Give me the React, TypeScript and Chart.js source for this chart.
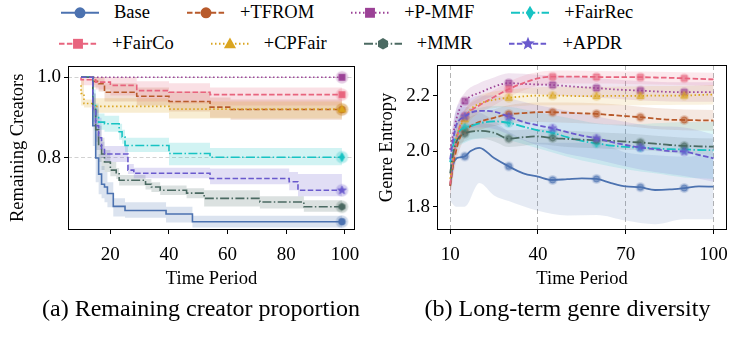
import React, { useEffect, useRef } from "react";
import { Chart, registerables } from "chart.js";

Chart.register(...registerables);

const FONT_FAMILY = '"Liberation Serif", "Times New Roman", Times, serif';

// ---------- series meta ----------
const SERIES_NAMES = ["Base", "+TFROM", "+P-MMF", "+FairRec", "+FairCo", "+CPFair", "+MMR", "+APDR"];
const SERIES_COLORS = ["#4C72B0", "#B85A2B", "#9B4196", "#17C3C3", "#E8647E", "#DAA520", "#4B6A62", "#6A5ACD"];
const SERIES_DASH = ["solid", "dashed", "dotted", "dashdot", "dashed", "dotted", "dashdot", "dashed"];
const SERIES_MARKERS = ["circle", "circle", "square", "diamond", "square", "triangle", "hexagon", "star"];
const LEGEND_ROWS = [[0, 1, 2, 3], [4, 5, 6, 7]];

// ---------- (a) Remaining creators: step series (x = change points) ----------
const remBaseX = [10, 14, 15, 16, 17, 18, 19, 21, 25, 39, 48, 88, 99];
const remBaseMean = [1.0, 1.0, 0.88, 0.8, 0.76, 0.735, 0.728, 0.712, 0.68, 0.67, 0.661, 0.642, 0.642];
const remBaseLo = [1.0, 1.0, 0.83, 0.74, 0.71, 0.7, 0.69, 0.678, 0.655, 0.652, 0.64, 0.628, 0.628];
const remBaseHi = [1.0, 1.0, 0.93, 0.86, 0.81, 0.78, 0.765, 0.74, 0.7, 0.69, 0.679, 0.657, 0.657];

const remTfromX = [10, 14, 16, 18, 29, 40, 54, 61, 84, 99];
const remTfromMean = [1.0, 1.0, 0.99, 0.984, 0.963, 0.953, 0.94, 0.926, 0.92, 0.92];
const remTfromLo = [1.0, 1.0, 0.975, 0.965, 0.94, 0.93, 0.915, 0.9, 0.895, 0.895];
const remTfromHi = [1.0, 1.0, 1.0, 1.0, 0.985, 0.975, 0.965, 0.95, 0.945, 0.945];

const remPmmfX = [10, 99];
const remPmmfMean = [1.0, 1.0];
const remPmmfLo = [1.0, 1.0];
const remPmmfHi = [1.0, 1.0];

const remFairRecX = [10, 14, 15, 16, 18, 23, 24, 25, 40, 54, 84, 99];
const remFairRecMean = [1.0, 1.0, 0.93, 0.9, 0.889, 0.885, 0.865, 0.852, 0.831, 0.811, 0.802, 0.802];
const remFairRecLo = [1.0, 1.0, 0.89, 0.87, 0.87, 0.865, 0.845, 0.835, 0.815, 0.782, 0.782, 0.782];
const remFairRecHi = [1.0, 1.0, 0.97, 0.935, 0.91, 0.905, 0.885, 0.87, 0.85, 0.838, 0.825, 0.825];

const remFairCoX = [10, 15, 20, 29, 40, 54, 61, 99];
const remFairCoMean = [1.0, 0.994, 0.988, 0.98, 0.967, 0.963, 0.957, 0.957];
const remFairCoLo = [1.0, 0.98, 0.97, 0.955, 0.94, 0.935, 0.93, 0.93];
const remFairCoHi = [1.0, 1.0, 1.0, 1.0, 0.99, 0.985, 0.975, 0.975];

const remCpFairX = [10, 11, 14, 40, 85, 99];
const remCpFairMean = [0.98, 0.96, 0.935, 0.928, 0.921, 0.921];
const remCpFairLo = [0.93, 0.93, 0.925, 0.912, 0.898, 0.898];
const remCpFairHi = [1.0, 1.0, 0.945, 0.948, 0.94, 0.94];

const remMmrX = [10, 14, 15, 16, 17, 18, 20, 22, 23, 32, 34, 37, 46, 52, 71, 86, 89, 99];
const remMmrMean = [1.0, 1.0, 0.92, 0.87, 0.83, 0.81, 0.79, 0.77, 0.761, 0.745, 0.735, 0.728, 0.72, 0.713, 0.7, 0.691, 0.679, 0.679];
const remMmrLo = [1.0, 1.0, 0.88, 0.82, 0.79, 0.77, 0.765, 0.755, 0.748, 0.732, 0.722, 0.716, 0.708, 0.7, 0.68, 0.675, 0.667, 0.667];
const remMmrHi = [1.0, 1.0, 0.96, 0.92, 0.88, 0.85, 0.82, 0.79, 0.775, 0.758, 0.748, 0.74, 0.732, 0.725, 0.72, 0.705, 0.695, 0.695];

const remApdrX = [10, 14, 15, 16, 17, 18, 26, 28, 54, 81, 84, 87, 99];
const remApdrMean = [1.0, 1.0, 0.92, 0.88, 0.85, 0.821, 0.81, 0.77, 0.762, 0.749, 0.741, 0.72, 0.72];
const remApdrLo = [1.0, 1.0, 0.88, 0.84, 0.82, 0.8, 0.79, 0.76, 0.75, 0.735, 0.72, 0.705, 0.705];
const remApdrHi = [1.0, 1.0, 0.96, 0.93, 0.9, 0.84, 0.83, 0.785, 0.776, 0.774, 0.765, 0.76, 0.76];

const REM_X = [remBaseX, remTfromX, remPmmfX, remFairRecX, remFairCoX, remCpFairX, remMmrX, remApdrX];
const REM_MEAN = [remBaseMean, remTfromMean, remPmmfMean, remFairRecMean, remFairCoMean, remCpFairMean, remMmrMean, remApdrMean];
const REM_LO = [remBaseLo, remTfromLo, remPmmfLo, remFairRecLo, remFairCoLo, remCpFairLo, remMmrLo, remApdrLo];
const REM_HI = [remBaseHi, remTfromHi, remPmmfHi, remFairRecHi, remFairCoHi, remCpFairHi, remMmrHi, remApdrHi];

const REM_X_TICKS = [20, 40, 60, 80, 100];
const REM_Y_TICKS = [0.8, 1.0];

// ---------- (b) Genre entropy ----------
const entX = [10, 11, 12, 13, 15, 17, 20, 25, 30, 35, 40, 45, 50, 55, 60, 65, 70, 75, 80, 85, 90, 95, 100];
const entMarkerX = [15, 30, 45, 60, 75, 90];
const entBaseMean = [1.875, 1.95, 1.972, 1.977, 1.981, 2.0, 2.012, 1.975, 1.945, 1.92, 1.908, 1.896, 1.899, 1.902, 1.9, 1.885, 1.873, 1.87, 1.86, 1.862, 1.867, 1.873, 1.872];
const entTfromMean = [1.875, 1.95, 2.0, 2.04, 2.075, 2.09, 2.105, 2.12, 2.133, 2.137, 2.14, 2.14, 2.138, 2.136, 2.134, 2.13, 2.126, 2.122, 2.117, 2.113, 2.112, 2.111, 2.11];
const entPmmfMean = [2.005, 2.06, 2.11, 2.145, 2.18, 2.197, 2.21, 2.232, 2.245, 2.242, 2.24, 2.238, 2.234, 2.23, 2.227, 2.223, 2.22, 2.218, 2.215, 2.213, 2.212, 2.212, 2.212];
const entFairRecMean = [1.96, 2.02, 2.05, 2.07, 2.085, 2.09, 2.1, 2.107, 2.102, 2.088, 2.075, 2.066, 2.05, 2.037, 2.028, 2.02, 2.015, 2.013, 2.01, 2.007, 2.006, 2.004, 2.003];
const entFairCoMean = [1.88, 1.97, 2.03, 2.08, 2.125, 2.145, 2.165, 2.195, 2.223, 2.245, 2.262, 2.268, 2.268, 2.268, 2.267, 2.266, 2.266, 2.266, 2.265, 2.264, 2.262, 2.26, 2.258];
const entCpFairMean = [1.9, 1.98, 2.04, 2.08, 2.115, 2.15, 2.17, 2.185, 2.192, 2.197, 2.2, 2.2, 2.199, 2.198, 2.198, 2.199, 2.199, 2.199, 2.2, 2.2, 2.2, 2.202, 2.204];
const entMmrMean = [1.92, 1.99, 2.03, 2.05, 2.063, 2.07, 2.073, 2.066, 2.045, 2.05, 2.053, 2.047, 2.044, 2.041, 2.039, 2.037, 2.034, 2.031, 2.027, 2.022, 2.019, 2.017, 2.016];
const entApdrMean = [1.97, 2.04, 2.09, 2.11, 2.125, 2.138, 2.145, 2.142, 2.124, 2.105, 2.093, 2.082, 2.068, 2.056, 2.046, 2.033, 2.022, 2.013, 2.007, 2.0, 1.998, 1.986, 1.974];

const entBandX = [10, 12, 15, 20, 25, 30, 40, 50, 60, 70, 80, 90, 100];
const entBaseLo = [1.82, 1.8, 1.8, 1.885, 1.84, 1.82, 1.785, 1.768, 1.77, 1.75, 1.737, 1.755, 1.755];
const entBaseHi = [1.93, 2.14, 2.16, 2.14, 2.11, 2.07, 2.03, 2.03, 2.03, 1.995, 1.985, 1.98, 1.99];
const entTfromLo = [1.84, 1.96, 2.045, 2.075, 2.09, 2.1, 2.105, 2.102, 2.098, 2.09, 2.08, 2.075, 2.073];
const entTfromHi = [1.91, 2.04, 2.105, 2.135, 2.15, 2.165, 2.175, 2.175, 2.172, 2.165, 2.155, 2.15, 2.148];
const entPmmfLo = [1.96, 2.07, 2.14, 2.175, 2.2, 2.21, 2.205, 2.198, 2.192, 2.186, 2.18, 2.178, 2.178];
const entPmmfHi = [2.05, 2.15, 2.21, 2.245, 2.265, 2.28, 2.275, 2.27, 2.262, 2.255, 2.25, 2.248, 2.248];
const entFairRecLo = [1.92, 2.0, 2.03, 2.045, 2.05, 2.04, 2.01, 1.98, 1.955, 1.935, 1.92, 1.905, 1.9];
const entFairRecHi = [2.0, 2.1, 2.14, 2.155, 2.162, 2.16, 2.14, 2.12, 2.1, 2.095, 2.1, 2.105, 2.105];
const entFairCoLo = [1.84, 1.98, 2.09, 2.135, 2.165, 2.195, 2.235, 2.243, 2.243, 2.242, 2.24, 2.238, 2.234];
const entFairCoHi = [1.92, 2.08, 2.15, 2.19, 2.22, 2.25, 2.285, 2.29, 2.288, 2.287, 2.286, 2.284, 2.282];
const entCpFairLo = [1.86, 2.0, 2.08, 2.14, 2.155, 2.16, 2.165, 2.165, 2.165, 2.165, 2.166, 2.167, 2.168];
const entCpFairHi = [1.94, 2.08, 2.15, 2.2, 2.215, 2.222, 2.23, 2.232, 2.232, 2.233, 2.234, 2.235, 2.238];
const entMmrLo = [1.88, 2.0, 2.035, 2.045, 2.035, 2.015, 2.025, 2.015, 2.01, 2.005, 2.0, 1.99, 1.988];
const entMmrHi = [1.96, 2.06, 2.09, 2.1, 2.095, 2.075, 2.08, 2.073, 2.068, 2.063, 2.055, 2.048, 2.045];
const entApdrLo = [1.93, 2.03, 2.07, 2.085, 2.08, 2.06, 2.02, 1.99, 1.97, 1.945, 1.925, 1.91, 1.89];
const entApdrHi = [2.01, 2.15, 2.18, 2.2, 2.2, 2.19, 2.165, 2.145, 2.125, 2.105, 2.09, 2.085, 2.06];

const ENT_MEAN = [entBaseMean, entTfromMean, entPmmfMean, entFairRecMean, entFairCoMean, entCpFairMean, entMmrMean, entApdrMean];
const ENT_LO = [entBaseLo, entTfromLo, entPmmfLo, entFairRecLo, entFairCoLo, entCpFairLo, entMmrLo, entApdrLo];
const ENT_HI = [entBaseHi, entTfromHi, entPmmfHi, entFairRecHi, entFairCoHi, entCpFairHi, entMmrHi, entApdrHi];

const ENT_X_TICKS = [10, 40, 70, 100];
const ENT_Y_TICKS = [1.8, 2.0, 2.2];

// ---------- helpers ----------
const DASH: Record<string, number[]> = {
  solid: [],
  dashed: [5.5, 2.4],
  dotted: [1.5, 2.5],
  dashdot: [9, 2.4, 1.5, 2.4],
};

function rgba(hex: string, a: number) {
  const n = parseInt(hex.slice(1), 16);
  return `rgba(${(n >> 16) & 255},${(n >> 8) & 255},${n & 255},${a})`;
}

function shapePath(ctx: CanvasRenderingContext2D, shape: string, cx: number, cy: number, r: number) {
  ctx.beginPath();
  if (shape === "circle") {
    ctx.arc(cx, cy, r, 0, Math.PI * 2);
  } else if (shape === "square") {
    ctx.rect(cx - r * 0.9, cy - r * 0.9, r * 1.8, r * 1.8);
  } else if (shape === "diamond") {
    ctx.moveTo(cx, cy - r * 1.3);
    ctx.lineTo(cx + r * 0.75, cy);
    ctx.lineTo(cx, cy + r * 1.3);
    ctx.lineTo(cx - r * 0.75, cy);
    ctx.closePath();
  } else if (shape === "triangle") {
    ctx.moveTo(cx, cy - r * 1.15);
    ctx.lineTo(cx + r * 1.1, cy + r * 0.8);
    ctx.lineTo(cx - r * 1.1, cy + r * 0.8);
    ctx.closePath();
  } else if (shape === "hexagon") {
    for (let k = 0; k < 6; k++) {
      const a = -Math.PI / 2 + (k * Math.PI) / 3;
      const px = cx + r * 1.05 * Math.cos(a);
      const py = cy + r * 1.05 * Math.sin(a);
      if (k === 0) ctx.moveTo(px, py);
      else ctx.lineTo(px, py);
    }
    ctx.closePath();
  } else if (shape === "star") {
    for (let k = 0; k < 10; k++) {
      const a = -Math.PI / 2 + (k * Math.PI) / 5;
      const rr = k % 2 === 0 ? r * 1.3 : r * 0.55;
      const px = cx + rr * Math.cos(a);
      const py = cy + rr * Math.sin(a);
      if (k === 0) ctx.moveTo(px, py);
      else ctx.lineTo(px, py);
    }
    ctx.closePath();
  }
}

function makeMarker(shape: string, color: string, r: number, haloR: number, fillAlpha: number, haloAlpha: number) {
  const size = Math.ceil(haloR * 2 + 2);
  const c = document.createElement("canvas");
  c.width = size;
  c.height = size;
  const ctx = c.getContext("2d")!;
  const m = size / 2;
  ctx.fillStyle = color;
  ctx.globalAlpha = haloAlpha;
  ctx.beginPath();
  ctx.arc(m, m, haloR, 0, Math.PI * 2);
  ctx.fill();
  ctx.globalAlpha = fillAlpha;
  shapePath(ctx, shape, m, m, r);
  ctx.fill();
  ctx.globalAlpha = Math.min(1, fillAlpha + 0.25);
  ctx.strokeStyle = color;
  ctx.lineWidth = 0.8;
  ctx.stroke();
  return c;
}

function drawHandle(canvas: HTMLCanvasElement, i: number) {
  const ctx = canvas.getContext("2d")!;
  const w = canvas.width;
  const cy = 12.8;
  ctx.clearRect(0, 0, w, canvas.height);
  ctx.strokeStyle = SERIES_COLORS[i];
  ctx.lineWidth = 2;
  ctx.setLineDash(DASH[SERIES_DASH[i]]);
  ctx.beginPath();
  ctx.moveTo(0, cy);
  ctx.lineTo(w, cy);
  ctx.stroke();
  ctx.setLineDash([]);
  ctx.fillStyle = SERIES_COLORS[i];
  shapePath(ctx, SERIES_MARKERS[i], w / 2, cy, 5.5);
  ctx.fill();
}

const mkPts = (xs: number[], ys: number[]) => xs.map((x, i) => ({ x, y: ys[i] }));

const framePlugin = {
  id: "frame",
  afterDatasetsDraw(chart: any) {
    const { ctx, chartArea: a } = chart;
    ctx.save();
    ctx.strokeStyle = "#000";
    ctx.lineWidth = 1;
    ctx.setLineDash([]);
    const l = Math.round(a.left) + 0.5;
    const t = Math.round(a.top) + 0.5;
    const r = Math.round(a.right) - 0.5;
    const b = Math.round(a.bottom) - 0.5;
    ctx.strokeRect(l, t, r - l, b - t);
    ctx.restore();
  },
};

const tickFont = { family: FONT_FAMILY, size: 19 };
const titleFont = { family: FONT_FAMILY, size: 18.5 };

function baseScales(opts: any) {
  return {
    x: {
      type: "linear",
      min: opts.xMin,
      max: opts.xMax,
      afterBuildTicks: (s: any) => {
        s.ticks = opts.xTicks.map((v: number) => ({ value: v }));
      },
      afterFit: (s: any) => {
        s.height = opts.xHeight;
        s.paddingLeft = 0;
        s.paddingRight = 0;
      },
      ticks: {
        font: tickFont,
        color: "#000",
        padding: 10,
        maxRotation: 0,
        autoSkip: false,
        callback: (v: any) => String(v),
      },
      grid: {
        display: true,
        drawOnChartArea: opts.xGrid,
        color: opts.xGridColor,
        lineWidth: 1,
        drawTicks: true,
        tickLength: 4,
        tickColor: "#000",
        tickWidth: 1,
      },
      border: { display: false, dash: [5, 3] },
      title: {
        display: true,
        text: "Time Period",
        font: titleFont,
        color: "#000",
        padding: { top: 0, bottom: 10 },
      },
    },
    y: {
      type: "linear",
      min: opts.yMin,
      max: opts.yMax,
      afterBuildTicks: (s: any) => {
        s.ticks = opts.yTicks.map((v: number) => ({ value: v }));
      },
      afterFit: (s: any) => {
        s.width = opts.yWidth;
        s.paddingTop = 0;
        s.paddingBottom = 0;
      },
      ticks: {
        font: tickFont,
        color: "#000",
        padding: 3,
        autoSkip: false,
        callback: (v: any) => Number(v).toFixed(1),
      },
      grid: {
        display: true,
        drawOnChartArea: opts.yGrid,
        color: opts.yGridColor,
        lineWidth: 1,
        drawTicks: true,
        tickLength: 4,
        tickColor: "#000",
        tickWidth: 1,
      },
      border: { display: false, dash: [4, 2.5] },
      title: {
        display: true,
        text: opts.yTitle,
        font: titleFont,
        color: "#000",
        padding: { top: opts.yTitlePad, bottom: 0 },
      },
    },
  };
}

function leftConfig(): any {
  const datasets: any[] = [];
  for (let i = 0; i < 8; i++) {
    const c = SERIES_COLORS[i];
    const last = REM_X[i].length - 1;
    const marker = makeMarker(SERIES_MARKERS[i], c, 3.4, 6.2, 1, 0.28);
    datasets.push({
      label: SERIES_NAMES[i],
      data: mkPts(REM_X[i], REM_MEAN[i]),
      borderColor: c,
      borderWidth: 1.6,
      borderDash: DASH[SERIES_DASH[i]],
      stepped: "after",
      fill: false,
      pointStyle: marker,
      pointRadius: (ctx: any) => (ctx.dataIndex === last ? 4 : 0),
      order: 10 - i,
    });
  }
  for (let i = 0; i < 8; i++) {
    const c = SERIES_COLORS[i];
    datasets.push({
      data: mkPts(REM_X[i], REM_HI[i]),
      borderColor: "rgba(0,0,0,0)",
      borderWidth: 0,
      backgroundColor: rgba(c, 0.2),
      fill: "+1",
      stepped: "after",
      pointRadius: 0,
      order: 30 - i,
    });
    datasets.push({
      data: mkPts(REM_X[i], REM_LO[i]),
      borderColor: "rgba(0,0,0,0)",
      borderWidth: 0,
      fill: false,
      stepped: "after",
      pointRadius: 0,
      order: 30 - i,
    });
  }
  return {
    type: "line",
    data: { datasets },
    options: {
      animation: false,
      responsive: false,
      events: [],
      devicePixelRatio: 1,
      layout: { padding: { top: 5, right: 12, left: 0, bottom: 0 } },
      plugins: { legend: { display: false }, tooltip: { enabled: false } },
      scales: baseScales({
        xMin: 5.55,
        xMax: 103.45,
        xTicks: REM_X_TICKS,
        xHeight: 70,
        xGrid: false,
        xGridColor: "rgba(0,0,0,0)",
        yMin: 0.6215,
        yMax: 1.029,
        yTicks: REM_Y_TICKS,
        yWidth: 68,
        yGrid: true,
        yGridColor: "#d2d2d2",
        yTitle: "Remaining Creators",
        yTitlePad: 7,
      }),
    },
    plugins: [framePlugin],
  };
}

function rightConfig(): any {
  const datasets: any[] = [];
  for (let i = 0; i < 8; i++) {
    const c = SERIES_COLORS[i];
    const marker = makeMarker(SERIES_MARKERS[i], c, 3.1, 4.8, 0.55, 0.3);
    datasets.push({
      label: SERIES_NAMES[i],
      data: mkPts(entX, ENT_MEAN[i]),
      borderColor: c,
      borderWidth: 1.8,
      borderDash: DASH[SERIES_DASH[i]],
      cubicInterpolationMode: "monotone",
      fill: false,
      pointStyle: marker,
      pointRadius: (ctx: any) => (ctx.raw && entMarkerX.includes(ctx.raw.x) ? 4 : 0),
      order: 10 - i,
    });
  }
  for (let i = 0; i < 8; i++) {
    const c = SERIES_COLORS[i];
    datasets.push({
      data: mkPts(entBandX, ENT_HI[i]),
      borderColor: "rgba(0,0,0,0)",
      borderWidth: 0,
      backgroundColor: rgba(c, 0.14),
      fill: "+1",
      cubicInterpolationMode: "monotone",
      pointRadius: 0,
      order: 30 - i,
    });
    datasets.push({
      data: mkPts(entBandX, ENT_LO[i]),
      borderColor: "rgba(0,0,0,0)",
      borderWidth: 0,
      fill: false,
      cubicInterpolationMode: "monotone",
      pointRadius: 0,
      order: 30 - i,
    });
  }
  return {
    type: "line",
    data: { datasets },
    options: {
      animation: false,
      responsive: false,
      events: [],
      devicePixelRatio: 1,
      layout: { padding: { top: 5, right: 7, left: 0, bottom: 0 } },
      plugins: { legend: { display: false }, tooltip: { enabled: false } },
      scales: baseScales({
        xMin: 5.5,
        xMax: 104.6,
        xTicks: ENT_X_TICKS,
        xHeight: 70,
        xGrid: true,
        xGridColor: "#b4b4b4",
        yMin: 1.716,
        yMax: 2.31,
        yTicks: ENT_Y_TICKS,
        yWidth: 70,
        yGrid: false,
        yGridColor: "rgba(0,0,0,0)",
        yTitle: "Genre Entropy",
        yTitlePad: 9,
      }),
    },
    plugins: [framePlugin],
  };
}

export default function App() {
  const leftRef = useRef<HTMLCanvasElement>(null);
  const rightRef = useRef<HTMLCanvasElement>(null);
  const handleRefs = useRef<(HTMLCanvasElement | null)[]>([]);

  useEffect(() => {
    handleRefs.current.forEach((c, i) => {
      if (c) drawHandle(c, i);
    });
    const left = new Chart(leftRef.current!, leftConfig());
    const right = new Chart(rightRef.current!, rightConfig());
    return () => {
      left.destroy();
      right.destroy();
    };
  }, []);

  const rowLeft = [61, 59];
  const rowTop = [0, 31];

  return (
    <div
      style={{
        position: "absolute",
        left: 0,
        top: 0,
        width: 734,
        height: 356,
        background: "#fff",
        overflow: "hidden",
        fontFamily: FONT_FAMILY,
        color: "#000",
      }}
    >
      {LEGEND_ROWS.map((row, r) => (
        <div
          key={r}
          style={{
            position: "absolute",
            left: rowLeft[r],
            top: rowTop[r],
            height: 24,
            display: "flex",
            alignItems: "center",
            whiteSpace: "nowrap",
          }}
        >
          {row.map((si, k) => (
            <div key={si} style={{ display: "flex", alignItems: "center", marginLeft: k ? 37 : 0 }}>
              <canvas
                ref={(el) => {
                  handleRefs.current[si] = el;
                }}
                width={38}
                height={24}
                style={{ width: 38, height: 24, display: "block" }}
              />
              <span style={{ marginLeft: 15, fontSize: 18.5, lineHeight: "24px" }}>{SERIES_NAMES[si]}</span>
            </div>
          ))}
        </div>
      ))}
      <canvas
        ref={leftRef}
        width={367}
        height={240}
        style={{ position: "absolute", left: 0, top: 60, width: 367, height: 240 }}
      />
      <canvas
        ref={rightRef}
        width={367}
        height={240}
        style={{ position: "absolute", left: 367, top: 60, width: 367, height: 240 }}
      />
      <div
        style={{
          position: "absolute",
          left: 1,
          width: 400,
          top: 294,
          textAlign: "center",
          fontSize: 24,
          lineHeight: "28px",
          whiteSpace: "nowrap",
        }}
      >
        (a) Remaining creator proportion
      </div>
      <div
        style={{
          position: "absolute",
          left: 367.5,
          width: 400,
          top: 294,
          textAlign: "center",
          fontSize: 24,
          lineHeight: "28px",
          whiteSpace: "nowrap",
        }}
      >
        (b) Long-term genre diversity
      </div>
    </div>
  );
}
